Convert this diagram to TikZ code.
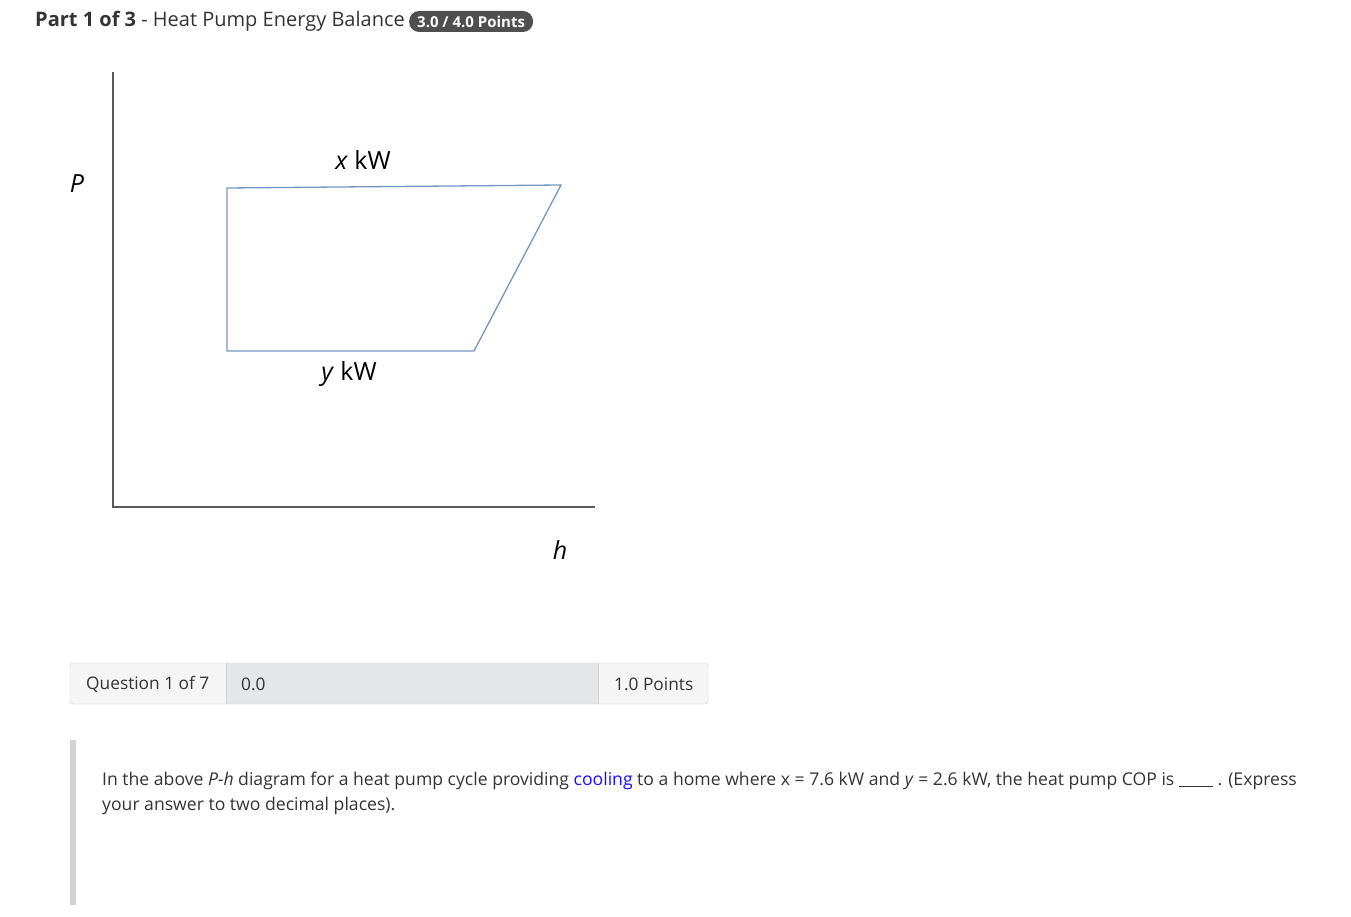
\documentclass[tikz,border=0pt]{standalone}
\usepackage{fontspec}
\setmainfont{Open Sans}
\usetikzlibrary{positioning}

\definecolor{axisgray}{HTML}{5A5A5A}
\definecolor{cycleblue}{HTML}{7396C2}
\definecolor{badgegray}{HTML}{4F4F4F}
\definecolor{celllight}{HTML}{F5F5F5}
\definecolor{cellgray}{HTML}{E5E6E8}
\definecolor{cellline}{HTML}{CFCFCF}
\definecolor{quotebar}{HTML}{D3D3D3}
\definecolor{textgray}{HTML}{333333}
\definecolor{linkblue}{HTML}{1A0DFF}

\begin{document}
\begin{tikzpicture}[
      x=1pt, y=-1pt,
      axis/.style={draw=axisgray, line width=1.4pt},
      cyc/.style={draw=cycleblue, line width=1.3pt, line join=miter},
      lab/.style={font=\fontsize{25}{29}\selectfont, inner sep=0pt},
      head/.style={font=\fontsize{20}{24}\selectfont, text=textgray, inner sep=0pt},
      badge/.style={fill=badgegray, text=white, rounded corners=10pt, font=\fontsize{15}{17}\selectfont\bfseries,
        inner xsep=8pt, minimum height=21pt, inner ysep=0pt},
      cell/.style={font=\fontsize{17.3}{20}\selectfont, text=textgray, inner sep=0pt},
      para/.style={font=\fontsize{17.6}{21}\selectfont, text=textgray, inner sep=0pt}
    ]
\useasboundingbox (0,0) rectangle (1351,917);

% Title
      \node[head, anchor=base west] (title) at (35,27) {\textbf{Part 1 of 3} - Heat Pump Energy Balance};
      \node[badge, anchor=west] (badge) at (409,21.5) {3.0 / 4.0 Points};

% Axes
      \coordinate (top) at (113,72);
      \coordinate (orig) at (113,507);
      \coordinate (right) at (595,507);
      \draw[axis] (top) -- (orig) -- (right);

% Cycle
      \coordinate (c1) at (227,188);
      \coordinate (c2) at (561,185);
      \coordinate (c3) at (474,351);
      \coordinate (c4) at (227,351);
      \draw[cyc] (c1) -- (c2) -- (c3) -- (c4) -- cycle;

% Labels
      \node[lab] (plab) at (77,184) {\itshape P};
      \node[lab] (xlab) at (363,160) {\textit{x} kW};
      \node[lab] (ylab) at (349,374) {\textit{y} kW};
      \node[lab] (hlab) at (560,550) {\itshape h};

% Question bar
      \fill[celllight, rounded corners=3pt] (70,663) rectangle (708,704);
      \fill[cellgray] (226,663) rectangle (598,704);
      \draw[cellline] (226,663) -- (226,704);
      \draw[cellline] (598,663) -- (598,704);
      \draw[cellline, rounded corners=3pt] (70,663) rectangle (708,704);
      \node[cell, anchor=west] (qnum) at (86,684) {Question 1 of 7};
      \node[cell, anchor=west] (score) at (241,684) {0.0};
      \node[cell, anchor=west] (pts) at (614,684) {1.0 Points};

% Question text
      \fill[quotebar] (70,740) rectangle (76,905);
      \node[para, anchor=base west] (line1) at (102,785) {In the above \textit{P-h} diagram for a heat pump cycle providing
        {\color{linkblue}cooling} to a home where x = 7.6 kW and \textit{y} = 2.6 kW, the heat pump COP is
        \underline{\hspace{34pt}} . (Express};
      \node[para, anchor=base west] (line2) at (102,810) {your answer to two decimal places).};
    \end{tikzpicture}
\end{document}
